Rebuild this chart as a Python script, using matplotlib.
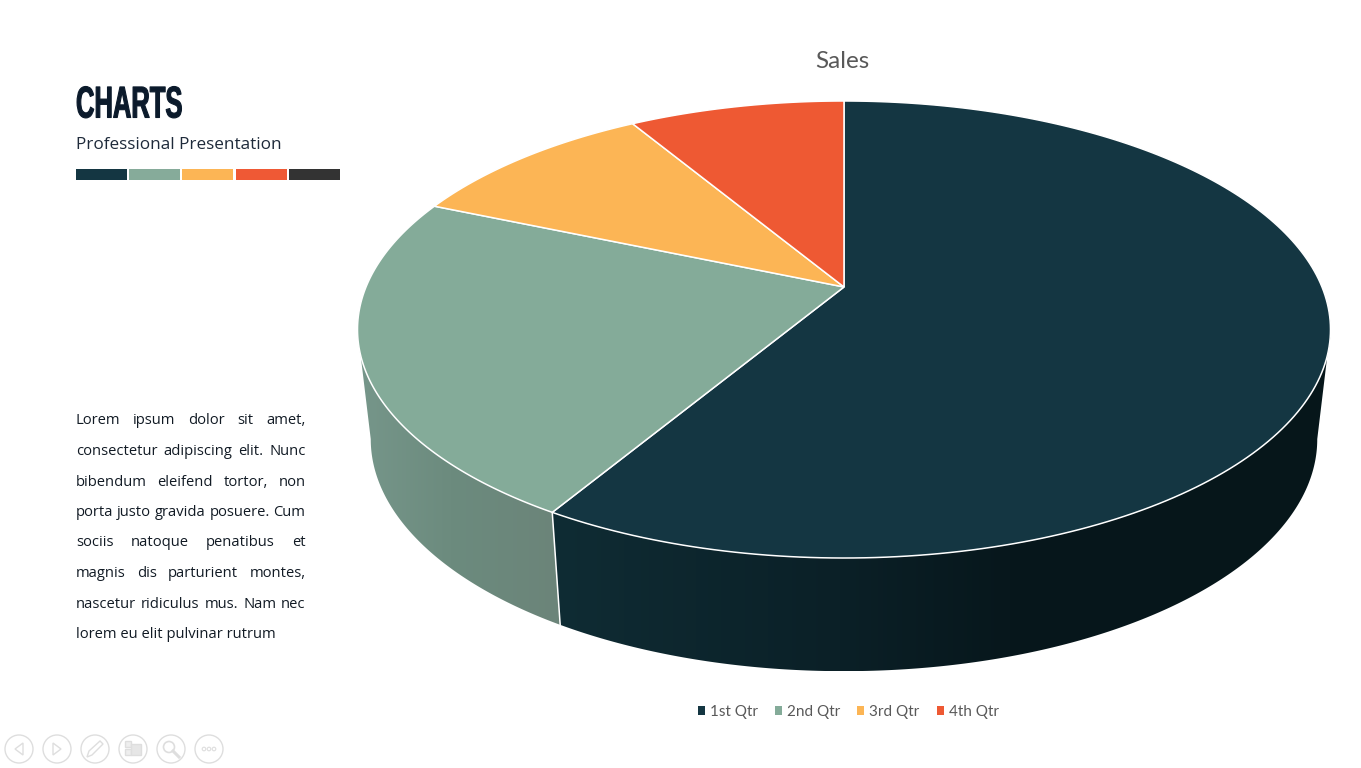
import numpy as np
import matplotlib
matplotlib.use("Agg")
import matplotlib.pyplot as plt
import matplotlib.patheffects as pe
from matplotlib.patches import Polygon, Circle, Rectangle, Patch
from matplotlib.font_manager import FontProperties
from matplotlib.transforms import Affine2D

plt.rcParams['font.family'] = ['Open Sans', 'DejaVu Sans']

# data
categories = ["1st Qtr", "2nd Qtr", "3rd Qtr", "4th Qtr"]
sales = [8.2, 3.2, 1.4, 1.2]
colors = ["#143642", "#84AB99", "#FCB555", "#EE5933"]
strip_colors = ["#143642", "#86AB9A", "#FCB555", "#EF5935", "#333333"]
body_lines = [
    "Lorem ipsum dolor sit amet,",
    "consectetur adipiscing elit. Nunc",
    "bibendum eleifend tortor, non",
    "porta justo gravida posuere. Cum",
    "sociis natoque penatibus et",
    "magnis dis parturient montes,",
    "nascetur ridiculus mus. Nam nec",
    "lorem eu elit pulvinar rutrum",
]

fig = plt.figure(figsize=(13.61, 7.68), dpi=100)
ax = fig.add_axes([0, 0, 1, 1])
ax.axis("off")


# perspective projection of the pie's top and bottom discs
def project(t, cx, cy, a, b, k):
    x, y = np.sin(t), np.cos(t)
    s = 1 / (1 + k * y)
    return cx + a * x * s, cy - b * y * s


def top(t):
    return project(t, 844, 287, 478, 220.6, 0.186)


def bottom(t):
    return project(t, 844, 396, 465, 224, 0.186)


def side_wall(t0, t1, stops):
    # shaded wall between two angles, gradient runs left to right
    ts = np.linspace(t0, t1, 200)
    xt, yt = top(ts)
    xb, yb = bottom(ts[::-1])
    xs = np.r_[xt, xb]
    ys = np.r_[yt, yb]
    poly = Polygon(np.column_stack([xs, ys]), fc="none", ec="none", transform=ax.transData)
    ax.add_patch(poly)
    stop_x = [s[0] for s in stops]
    stop_c = np.array([matplotlib.colors.to_rgb(s[1]) for s in stops])
    gx = np.linspace(xs.min(), xs.max(), 400)
    grad = np.stack([np.interp(gx, stop_x, stop_c[:, i]) for i in range(3)], axis=1)[None, :, :]
    im = ax.imshow(grad, extent=[xs.min(), xs.max(), ys.max(), ys.min()], aspect="auto", zorder=1)
    im.set_clip_path(poly)


fracs = np.array(sales) / sum(sales)
edges = np.concatenate([[0], np.cumsum(fracs)]) * 2 * np.pi
t_seam = edges[1]

side_wall(np.radians(100.7), t_seam,
          [(552, "#0F2C34"), (840, "#0B2027"), (1010, "#07171C"), (1330, "#06161A")])
side_wall(t_seam, np.radians(259.3),
          [(360, "#76968A"), (450, "#6C8B7E"), (560, "#6B8479")])

ax.set_xlim(0, 1361)
ax.set_ylim(768, 0)

# top face
for i in range(len(sales)):
    t = np.linspace(edges[i], edges[i + 1], 200)
    xs, ys = top(t)
    ax.add_patch(Polygon(np.column_stack([np.r_[844, xs], np.r_[287, ys]]),
                         fc=colors[i], ec="white", lw=1.1, zorder=3))

# seam on the side wall
xa, ya = top(t_seam)
xb, yb = bottom(t_seam)
ax.plot([xa, xb], [ya, yb], color="white", lw=1.1, zorder=3)

ax.text(842, 62, "Sales", fontsize=17.5, color="#595959", ha="center", va="center",
        family=["Lato", "DejaVu Sans"])

handles = [Patch(fc=c, ec="none") for c in colors]
ax.legend(handles, categories, loc="center", bbox_to_anchor=(848.5 / 1361, 1 - 712 / 768),
          ncol=4, frameon=False, labelcolor="#595959",
          prop=FontProperties(family=["Lato", "DejaVu Sans"], size=11),
          handlelength=0.46, handleheight=0.46, handletextpad=0.33, columnspacing=1.1)


class Squeeze(pe.AbstractPathEffect):
    # horizontal squeeze for the condensed title, keeps it a text object
    def __init__(self, x0, sx, lw):
        super().__init__()
        self.x0, self.sx, self.lw = x0, sx, lw

    def draw_path(self, renderer, gc, tpath, affine, rgbFace=None):
        gc0 = renderer.new_gc()
        gc0.copy_properties(gc)
        gc0.set_linewidth(self.lw)
        gc0.set_foreground(rgbFace)
        squeeze = Affine2D().translate(-self.x0, 0).scale(self.sx, 1).translate(self.x0, 0)
        renderer.draw_path(gc0, tpath, affine + squeeze, rgbFace)
        gc0.restore()


# left column
ax.text(76, 117.5, "CHARTS", fontsize=32, fontweight="bold", color="#0B1A2B",
        family="Liberation Sans", ha="left", va="baseline",
        path_effects=[Squeeze(76, 0.575, 0.8)])
ax.text(76, 145, "Professional Presentation", fontsize=12.35, color="#1E2A3A", ha="left", va="center")

for i, c in enumerate(strip_colors):
    ax.add_patch(Rectangle((76 + i * 53.2, 169), 51, 11, fc=c, ec="none"))

# justified paragraph, word by word
renderer = fig.canvas.get_renderer()
fp = FontProperties(family=['Open Sans', 'DejaVu Sans'], size=10.67)
left, right = 76, 305.5
for n, line in enumerate(body_lines):
    y = 421 + n * 30.5
    words = line.split(" ")
    if n == len(body_lines) - 1:
        ax.text(left, y, line, fontproperties=fp, color="#111A24", va="center")
        continue
    sizes = []
    for w in words:
        tmp = ax.text(0, 0, w, fontproperties=fp, alpha=0)
        sizes.append(tmp.get_window_extent(renderer).width)
        tmp.remove()
    gap = (right - left - sum(sizes)) / (len(words) - 1)
    x = left
    for w, s in zip(words, sizes):
        ax.text(x, y, w, fontproperties=fp, color="#111A24", va="center")
        x += s + gap

# slide show controls
ic = "#DEDEDE"
centers = [19, 57, 95, 133, 171, 209]
for cx in centers:
    ax.add_patch(Circle((cx, 749), 14, fc="white", ec=ic, lw=1))
ax.add_patch(Polygon([(23, 743), (23, 755), (15, 749)], fc="none", ec=ic, lw=1))
ax.add_patch(Polygon([(53, 743), (53, 755), (61, 749)], fc="none", ec=ic, lw=1))
ax.add_patch(Polygon([(87, 757), (89, 751), (100, 741), (103, 744), (92, 755)], fc="none", ec=ic, lw=1))
ax.add_patch(Rectangle((125, 741), 6, 6, fc="#EEEEEE", ec=ic, lw=1))
ax.add_patch(Rectangle((125, 749), 6, 6, fc="#EEEEEE", ec=ic, lw=1))
ax.add_patch(Rectangle((131, 744), 10, 11, fc="#E6E6E6", ec=ic, lw=1))
ax.add_patch(Circle((169, 747), 5.5, fc="none", ec=ic, lw=1.2))
ax.plot([173, 179], [751, 757], color=ic, lw=2.2)
for dx in (-5, 0, 5):
    ax.add_patch(Circle((209 + dx, 749), 1.8, fc="none", ec=ic, lw=0.8))

fig.savefig("out.png", dpi=100, facecolor="white")
